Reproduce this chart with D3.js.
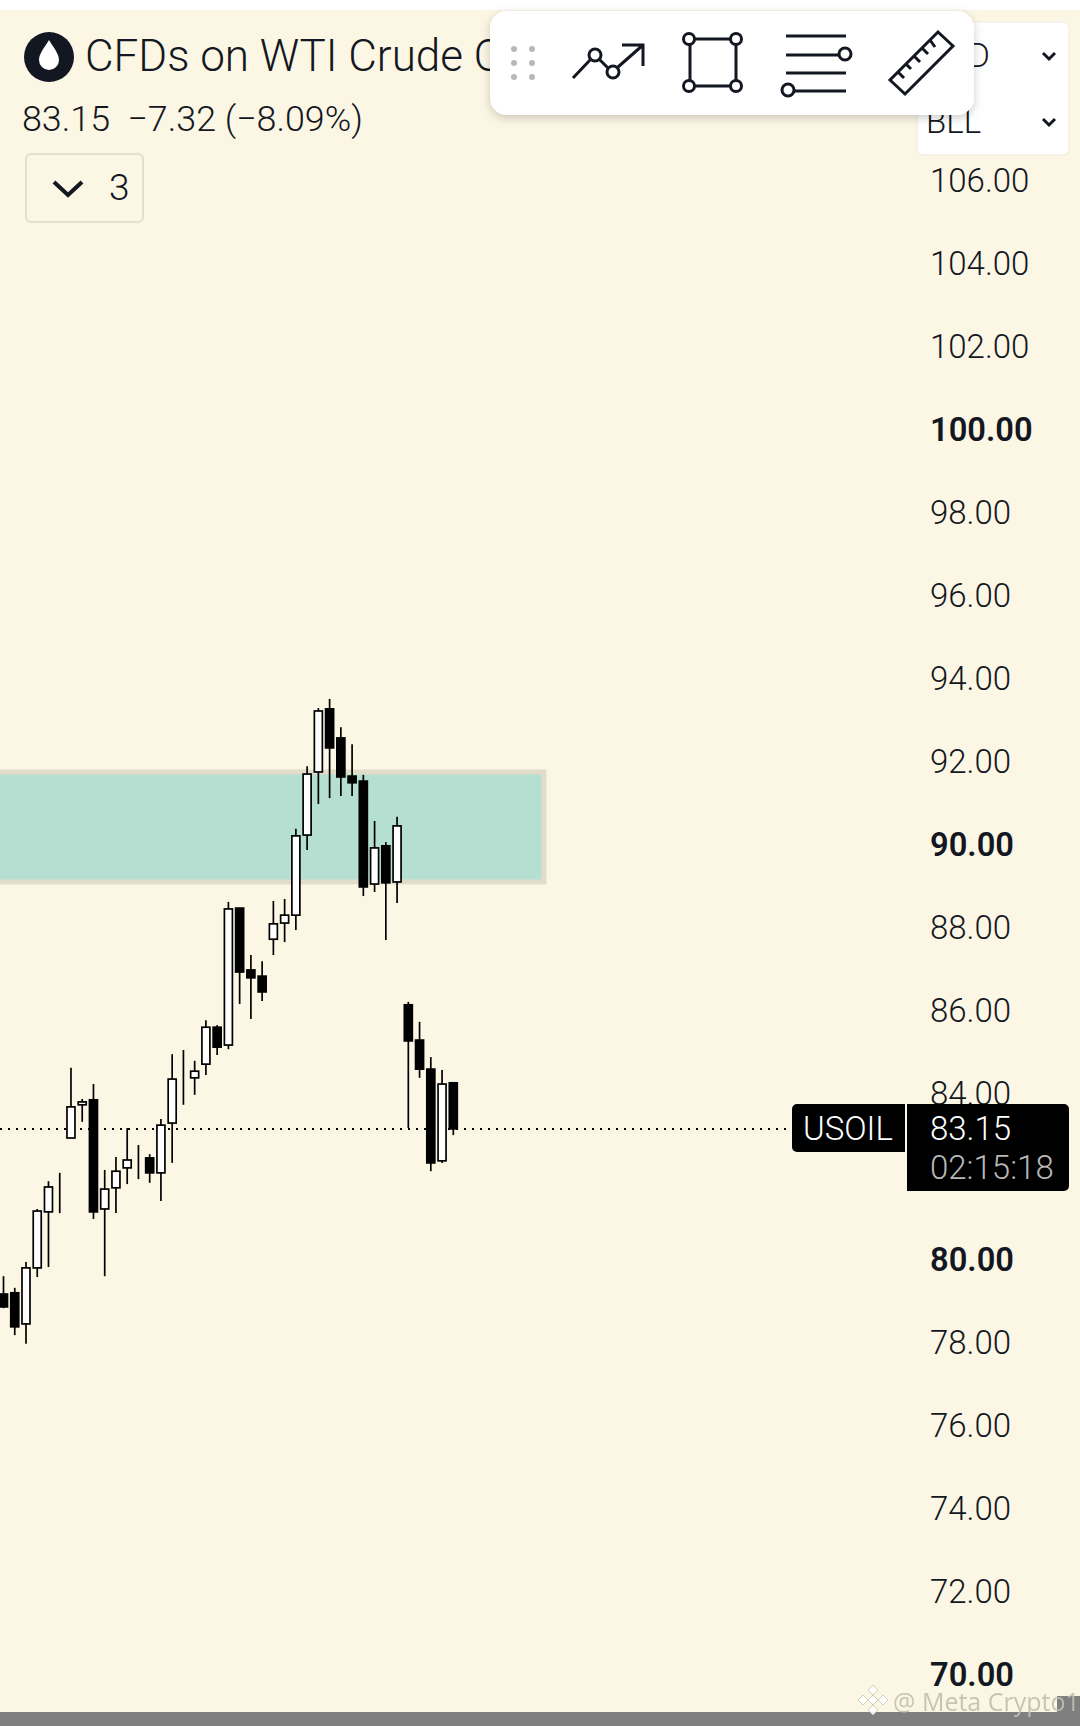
<!DOCTYPE html>
<html>
<head>
<meta charset="utf-8">
<script src="https://cdn.jsdelivr.net/npm/d3@7"></script>
<style>
  html, body { margin: 0; padding: 0; background: #fff; }
  svg { display: block; }
  text { font-family: Roboto, sans-serif; font-weight: 300; fill: #131722; white-space: pre; }
</style>
</head>
<body>
<script>
// price ticks on the right axis
var priceTicks = [106, 104, 102, 100, 98, 96, 94, 92, 90, 88, 86, 84, 80, 78, 76, 74, 72, 70];
var boldTicks = [100, 90, 80, 70];

// daily candles
var opens = [79.17, 79.20, 78.45, 79.80, 81.15, 81.80, 82.93, 83.73, 83.85, 81.22, 81.73, 82.21, 82.45, 82.45, 82.09, 83.29, 84.40, 84.38, 84.71, 85.60, 85.17,
  88.47, 86.98, 86.83, 87.72, 88.11, 88.30, 90.23, 91.75, 93.27, 92.57, 91.65, 91.53, 89.05, 89.97, 89.10, 86.14, 85.29, 84.59, 82.38, 84.26];
var closes = [78.86, 78.38, 79.80, 81.17, 81.75, 81.80, 83.68, 83.80, 81.15, 81.70, 82.13, 82.40, 82.45, 82.09, 83.24, 84.35, 84.40, 84.54, 85.60, 85.12, 88.45,
  86.93, 86.79, 86.45, 88.09, 88.30, 90.21, 91.70, 93.22, 92.33, 91.63, 91.49, 88.98, 89.92, 89.08, 90.45, 85.27, 84.59, 82.33, 84.23, 83.15];
var highs = [79.60, 79.32, 79.94, 81.22, 81.89, 82.09, 84.62, 83.87, 84.23, 82.16, 82.47, 83.17, 82.76, 82.54, 83.39, 84.95, 85.05, 84.79, 85.77, 85.65, 88.62,
  88.47, 87.34, 87.19, 88.64, 88.69, 90.38, 91.89, 93.29, 93.51, 92.83, 92.42, 91.68, 90.57, 90.06, 90.67, 86.21, 85.73, 84.88, 84.57, 84.28];
var lows = [78.83, 78.18, 77.97, 79.58, 79.82, 81.12, 82.93, 83.32, 80.98, 79.60, 81.12, 81.82, 81.94, 81.85, 81.41, 82.33, 83.73, 83.97, 84.45, 84.93, 85.07,
  86.16, 85.80, 86.23, 87.34, 87.65, 87.94, 89.87, 90.98, 91.12, 91.17, 91.17, 88.76, 88.86, 87.70, 88.59, 83.17, 84.38, 82.13, 82.33, 83.00];

var lastPrice = 83.15;
var zoneTop = 91.75, zoneBottom = 89.10, zoneEndIndex = 48.1;

var width = 1080, height = 1726;

var svg = d3.select("body").append("svg")
  .attr("width", width)
  .attr("height", height);

var x = d3.scaleLinear().domain([0, 40]).range([3.5, 453.3]);
var y = d3.scaleLinear().domain([106, 70]).range([180.6, 1674.6]);

// background
svg.append("rect").attr("width", width).attr("height", height).attr("fill", "#fff");
svg.append("rect").attr("y", 10).attr("width", width).attr("height", height - 10).attr("fill", "#fcf6e4");

// supply zone
svg.append("rect")
  .attr("x", -10)
  .attr("y", y(zoneTop))
  .attr("width", x(zoneEndIndex) + 9.5)
  .attr("height", y(zoneBottom) - y(zoneTop))
  .attr("fill", "#b5dfd0")
  .attr("stroke", "#e2dccb")
  .attr("stroke-width", 5);

// last price line
svg.append("line")
  .attr("x1", 0).attr("x2", 792)
  .attr("y1", y(lastPrice)).attr("y2", y(lastPrice))
  .attr("stroke", "#000")
  .attr("stroke-width", 2)
  .attr("stroke-dasharray", "2 6");

// candles
var candles = svg.selectAll("g.candle")
  .data(opens.map(function (d, i) { return { i: i, o: d, c: closes[i], h: highs[i], l: lows[i] }; }))
  .enter().append("g").attr("class", "candle");

candles.append("line")
  .attr("x1", function (d) { return x(d.i); })
  .attr("x2", function (d) { return x(d.i); })
  .attr("y1", function (d) { return y(d.h); })
  .attr("y2", function (d) { return y(d.l); })
  .attr("stroke", "#000")
  .attr("stroke-width", 1.7);

candles.append("rect")
  .attr("x", function (d) { return x(d.i) - 4; })
  .attr("width", 8)
  .attr("y", function (d) { return y(Math.max(d.o, d.c)); })
  .attr("height", function (d) { return Math.abs(y(d.o) - y(d.c)); })
  .attr("fill", function (d) { return d.c > d.o ? "#fff" : "#000"; })
  .attr("stroke", "#000")
  .attr("stroke-width", 1.7);

// price axis
var axis = svg.append("g")
  .attr("transform", "translate(930,0.4)")
  .call(d3.axisRight(y).tickValues(priceTicks).tickSize(0).tickPadding(0).tickFormat(d3.format(".2f")));
axis.select(".domain").remove();
axis.selectAll("text")
  .style("font-family", "Roboto, sans-serif")
  .style("font-size", function (d) { return boldTicks.indexOf(d) >= 0 ? "32.7px" : "33px"; })
  .style("font-weight", function (d) { return boldTicks.indexOf(d) >= 0 ? 600 : 300; })
  .style("fill", "#131722");

// last price labels
svg.append("path").attr("d", "M797 1104H905V1152H797a5 5 0 0 1-5-5V1109a5 5 0 0 1 5-5Z").attr("fill", "#000");
svg.append("path").attr("d", "M907 1104H1064a5 5 0 0 1 5 5V1186a5 5 0 0 1-5 5H907Z").attr("fill", "#000");
svg.append("text").attr("x", 803).attr("y", 1140).style("font-size", "33px").style("fill", "#fff").text("USOIL");
svg.append("text").attr("x", 930).attr("y", 1140).style("font-size", "33px").style("fill", "#fff").text(d3.format(".2f")(lastPrice));
svg.append("text").attr("x", 930).attr("y", 1179).style("font-size", "33px").style("fill", "#b8b8b8").text("02:15:18");

// header
svg.append("circle").attr("cx", 49).attr("cy", 57).attr("r", 25).attr("fill", "#131722");
svg.append("path").attr("d", "M49 40C44 48 39 54 39 60a10 10 0 0 0 20 0C59 54 54 48 49 40Z").attr("fill", "#fff");
svg.append("text").attr("x", 85).attr("y", 71).style("font-size", "44px").text("CFDs on WTI Crude Oil");
svg.append("text").attr("x", 22).attr("y", 131).style("font-size", "35.8px").text("83.15  \u22127.32 (\u22128.09%)");
svg.append("rect").attr("x", 26).attr("y", 154).attr("width", 117).attr("height", 68).attr("rx", 5)
  .attr("fill", "none").attr("stroke", "#e3dfcf").attr("stroke-width", 2);
svg.append("path").attr("d", "M54 182L68 195L82 182").attr("fill", "none").attr("stroke", "#131722").attr("stroke-width", 4);
svg.append("text").attr("x", 109).attr("y", 200).style("font-size", "37px").text("3");

// interval / unit box behind the toolbar
svg.append("rect").attr("x", 917).attr("y", 22).attr("width", 152).attr("height", 133).attr("rx", 6)
  .attr("fill", "#fff").attr("stroke", "#f3efe4").attr("stroke-width", 1.5);
svg.append("text").attr("x", 926).attr("y", 133).style("font-size", "33px").text("BLL");
svg.append("text").attr("x", 950).attr("y", 67).style("font-size", "33px").text("1D");
[56, 122].forEach(function (cy) {
  svg.append("path").attr("d", "M1043 " + (cy - 3) + "L1049 " + (cy + 3) + "L1055 " + (cy - 3))
    .attr("fill", "none").attr("stroke", "#131722").attr("stroke-width", 3);
});

// drawing toolbar
var shadow = svg.append("defs").append("filter").attr("id", "sh")
  .attr("x", "-10%").attr("y", "-20%").attr("width", "120%").attr("height", "150%");
shadow.append("feDropShadow").attr("dx", 0).attr("dy", 3).attr("stdDeviation", 5)
  .attr("flood-color", "#000").attr("flood-opacity", 0.2);
svg.append("rect").attr("x", 490).attr("y", 11).attr("width", 484).attr("height", 104).attr("rx", 17)
  .attr("fill", "#fff").attr("filter", "url(#sh)");
[514, 532].forEach(function (dx) {
  [49, 63, 77].forEach(function (dy) {
    svg.append("circle").attr("cx", dx).attr("cy", dy).attr("r", 3).attr("fill", "#b8b8b8");
  });
});
var icons = svg.append("g").attr("fill", "none").attr("stroke", "#131722").attr("stroke-width", 3);
// trend line
icons.append("path").attr("d", "M573 78L590 60M599 59L608 68M618 67L643 45M622 45H643V66");
icons.append("circle").attr("cx", 595).attr("cy", 55).attr("r", 6);
icons.append("circle").attr("cx", 613).attr("cy", 72).attr("r", 6);
// rectangle
icons.append("path").attr("d", "M695 39H730M690 45V80M736 45V80M695 86H730");
[[689, 39], [736, 39], [689, 86], [736, 86]].forEach(function (p) {
  icons.append("circle").attr("cx", p[0]).attr("cy", p[1]).attr("r", 5.5);
});
// fib lines
icons.append("path").attr("d", "M786 36H846M786 55H838M786 73H846M795 91H846");
icons.append("circle").attr("cx", 845).attr("cy", 54).attr("r", 6);
icons.append("circle").attr("cx", 788).attr("cy", 90).attr("r", 6);
// ruler
icons.append("path").attr("d", "M938 32L953 46L905 94L890 80Z M930 40L935 47 M922 48L928 54 M914 56L920 62 M906 64L911 69 M898 72L904 78");

// watermark and bottom bar
svg.append("rect").attr("y", 1712).attr("width", width).attr("height", 14).attr("fill", "#7f7f7f");
svg.append("rect").attr("x", 1057).attr("y", 1696).attr("width", 23).attr("height", 16).attr("fill", "#7f7f7f");
var logo = svg.append("g").attr("fill", "#fff").attr("stroke", "#cfcabb").attr("stroke-width", 1).attr("opacity", 0.9);
[[873, 1690], [863, 1700], [883, 1700], [873, 1710], [873, 1700]].forEach(function (p) {
  logo.append("path").attr("d", "M" + p[0] + " " + (p[1] - 5) + "l5 5l-5 5l-5 -5Z");
});
svg.append("text").attr("x", 893).attr("y", 1711)
  .style("font-family", "'Open Sans', sans-serif").style("font-size", "25px").style("font-weight", 400)
  .style("fill", "#c2bfb2").style("opacity", 0.9).text("@ Meta Crypto1");
</script>
</body>
</html>
